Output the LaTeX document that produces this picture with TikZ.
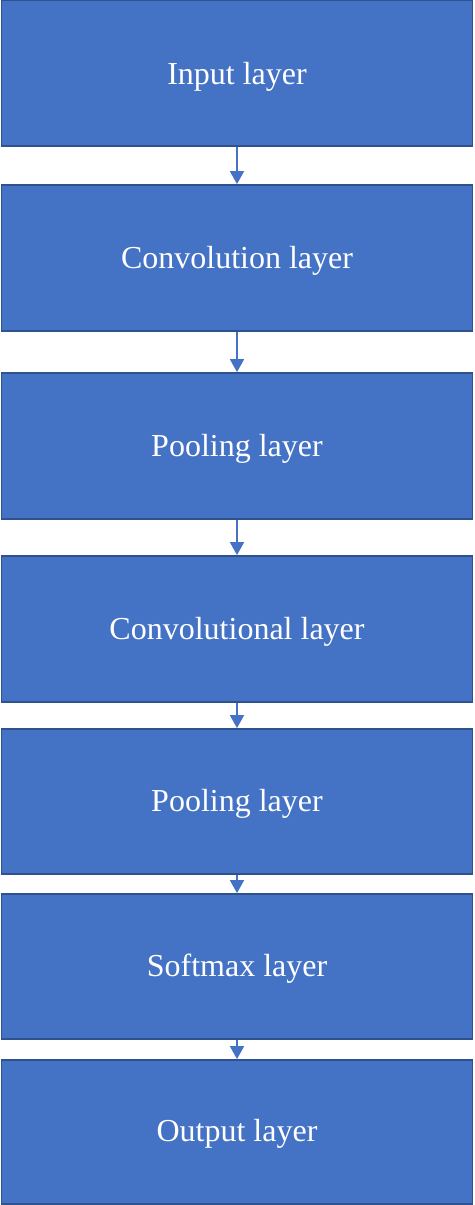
\documentclass[tikz,border=0pt]{standalone}
\usepackage{fontspec}
\setmainfont{Liberation Serif}
\usetikzlibrary{arrows.meta}
\definecolor{boxfill}{HTML}{4472C4}
\definecolor{boxline}{HTML}{2F528F}
\tikzset{
  layerbox/.style={draw=boxline, line width=1.8pt, fill=boxfill,
    minimum width=471pt, inner sep=0pt},
  lbl/.style={text=white, font=\fontsize{32}{38}\selectfont, inner sep=0pt, anchor=base},
  flow/.style={draw=boxfill, line width=1.8pt, -{Triangle[length=13pt,width=14pt]}}
}
\begin{document}
\begin{tikzpicture}[x=1pt,y=-1pt]
\useasboundingbox (0,0) rectangle (474,1205);
\node[layerbox, minimum height=146pt] (b1) at (237,73) {};
\node[layerbox, minimum height=146pt] (b2) at (237,258) {};
\node[layerbox, minimum height=146pt] (b3) at (237,446) {};
\node[layerbox, minimum height=146pt] (b4) at (237,629) {};
\node[layerbox, minimum height=145pt] (b5) at (237,801.5) {};
\node[layerbox, minimum height=145pt] (b6) at (237,966.5) {};
\node[layerbox, minimum height=144pt] (b7) at (237,1132) {};
\node[lbl] (t1) at (237,84) {Input layer};
\node[lbl] (t2) at (237,268) {Convolution layer};
\node[lbl] (t3) at (237,456) {Pooling layer};
\node[lbl] (t4) at (237,639) {Convolutional layer};
\node[lbl] (t5) at (237,811) {Pooling layer};
\node[lbl] (t6) at (237,976) {Softmax layer};
\node[lbl] (t7) at (237,1141) {Output layer};
\foreach \a/\b in {b1/b2,b2/b3,b3/b4,b4/b5,b5/b6,b6/b7}
  \draw[flow] (\a.south) -- (\b.north);
\end{tikzpicture}
\end{document}
